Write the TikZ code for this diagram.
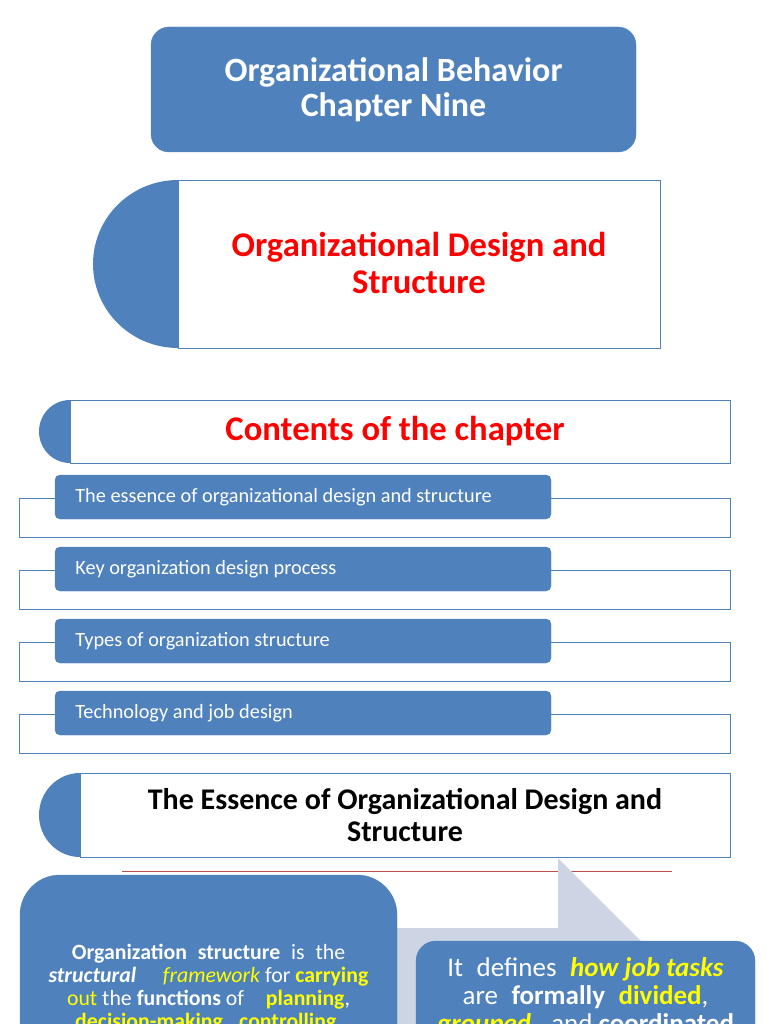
\documentclass[tikz,border=0pt]{standalone}
\usepackage{fontspec}
\setmainfont{Carlito}
\definecolor{ob}{HTML}{4F81BD}
\definecolor{grayb}{HTML}{CDD5E5}
\definecolor{yl}{HTML}{FFFF00}
\definecolor{redline}{HTML}{C0504D}
\begin{document}
\begin{tikzpicture}[x=1pt,y=-1pt,
 blue/.style={fill=ob,draw=ob},
 frame/.style={draw=ob,line width=0.8pt,fill=white},
 item/.style={fill=ob,draw=ob,rounded corners=5pt},
 itemtxt/.style={text=white,font=\fontsize{20.3}{22}\selectfont,anchor=west}]
\useasboundingbox (0,0) rectangle (768,1024);
\clip (0,0) rectangle (768,1024);
% title
\node[blue,rounded corners=18pt,minimum width=485pt,minimum height=125pt,text=white,font=\bfseries\fontsize{34}{35}\selectfont,align=center] (title) at (393.5,89.5) {Organizational Behavior\\Chapter Nine};
% design
\fill[ob] (178,180) arc[start angle=270,end angle=90,x radius=85,y radius=84] -- cycle;
\node[frame,minimum width=482pt,minimum height=168pt,inner sep=0pt] (design) at (419,264) {};
\node[text=red,font=\bfseries\fontsize{34.6}{37}\selectfont,align=center] (dt) at (419,263) {Organizational Design and\\Structure};
% contents
\fill[ob] (70,400) arc[start angle=270,end angle=90,x radius=31,y radius=31.5] -- cycle;
\node[frame,minimum width=660pt,minimum height=63pt,inner sep=0pt] (cont) at (400,431.5) {};
\node[text=red,font=\bfseries\fontsize{34.6}{37}\selectfont] (ct) at (395,431) {Contents of the chapter};
% items
\foreach \y/\t [count=\i] in {475/The essence of organizational design and structure,547/Key organization design process,619/Types of organization structure,691/Technology and job design}{
 \draw[draw=ob,line width=0.8pt] (19,\y+23) rectangle (730,\y+62);
 \node[item,minimum width=496pt,minimum height=44pt,inner sep=0pt] (it\i) at (303,\y+22) {};
 \node[itemtxt] (itt\i) at (it\i.west) [xshift=17pt] {\t};
}
% essence
\fill[ob] (80,773) arc[start angle=270,end angle=90,x radius=41,y radius=42] -- cycle;
\node[frame,minimum width=650pt,minimum height=84pt,inner sep=0pt] (ess) at (405,815) {};
\node[font=\bfseries\fontsize{30}{32}\selectfont,align=center] (et) at (405,815) {The Essence of Organizational Design and\\Structure};
\draw[draw=redline,line width=0.6pt] (122,871) coordinate (r1) -- (672,871) coordinate (r2);
% callout
\fill[grayb] (558,858) -- (645,945) -- (645,1024) -- (397,1024) -- (397,928) -- (558,928) -- cycle;
\node[blue,rounded corners=40pt,minimum width=377pt,minimum height=200pt,inner sep=0pt] (lb) at (208.5,975) {};
\node[text=white,font=\fontsize{21.8}{23}\selectfont,align=center] (lt) at (208.5,988)
 {\textbf{Organization}\enspace \textbf{structure}\enspace is\enspace the\\
 \textbf{\textit{structural}}\quad\ \textcolor{yl}{\textit{framework}} for \textcolor{yl}{\textbf{carrying}}\\
 \textcolor{yl}{out} the \textbf{functions} of\quad \textcolor{yl}{\textbf{planning}},\\
 \textcolor{yl}{\textbf{decision-making}},\enspace \textcolor{yl}{\textbf{controlling}},};
\node[blue,rounded corners=20pt,minimum width=339pt,minimum height=160pt,inner sep=0pt] (rb) at (585.5,1021) {};
\node[text=white,font=\fontsize{27}{28}\selectfont,align=center] (rt) at (585.5,997)
 {It\enspace defines\enspace \textcolor{yl}{\textbf{\textit{how job tasks}}}\\
 are\enspace \textbf{formally}\enspace \textcolor{yl}{\textbf{divided}},\\
 \textcolor{yl}{\textbf{\textit{grouped}}},\enspace and \textbf{coordinated}};
\end{tikzpicture}
\end{document}
